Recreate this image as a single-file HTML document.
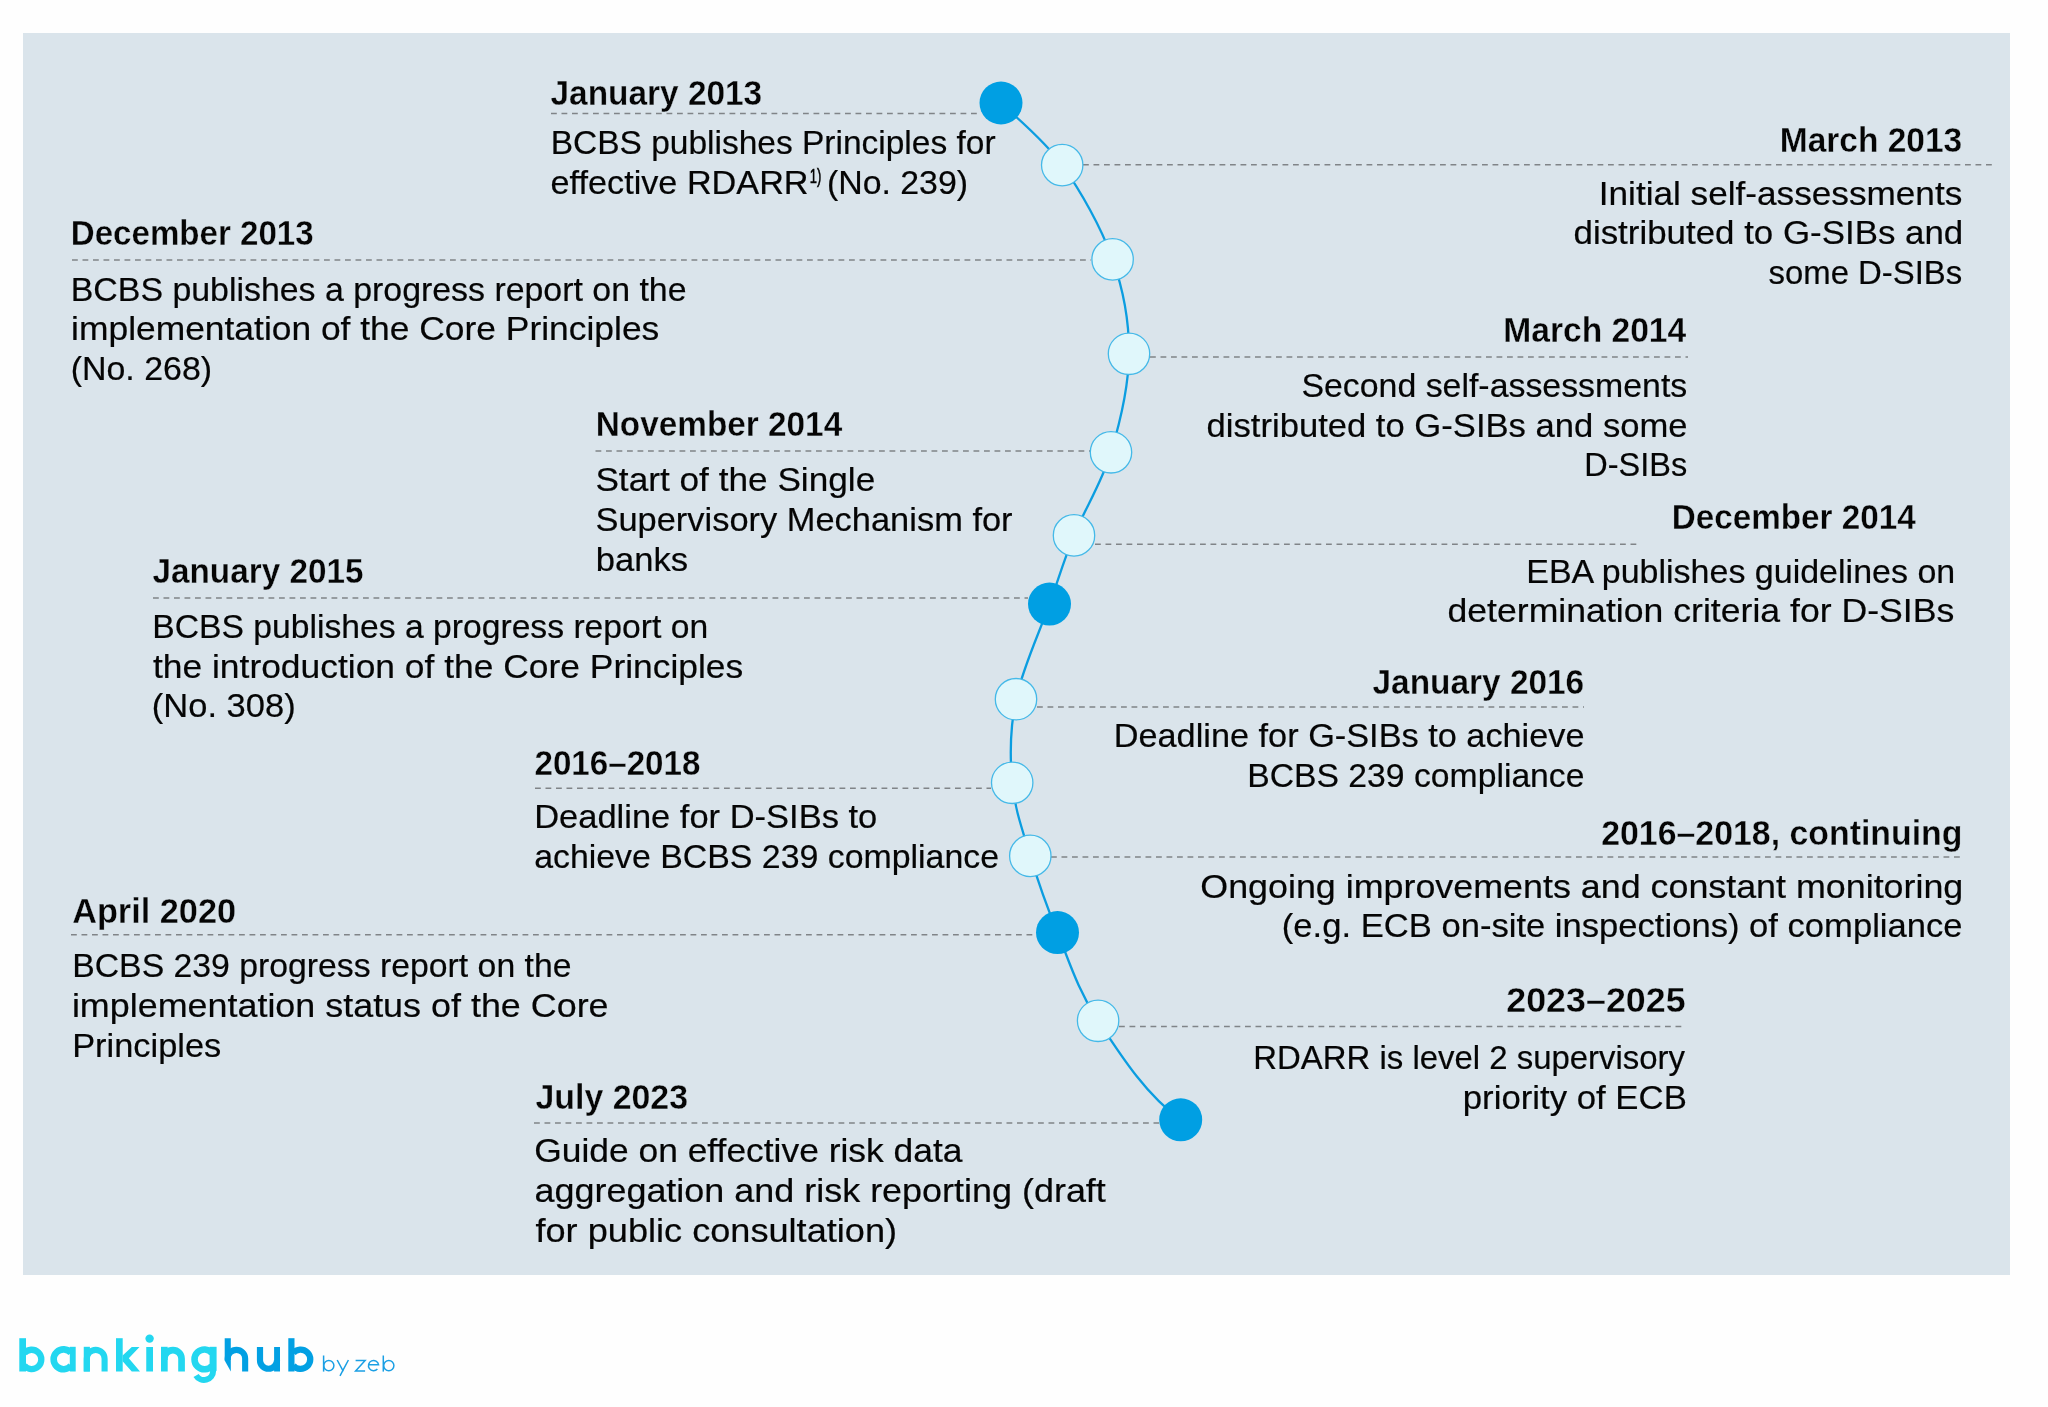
<!DOCTYPE html><html><head><meta charset="utf-8"><style>html,body{margin:0;padding:0;background:#fefefe;width:2048px;height:1407px;overflow:hidden}svg{display:block;will-change:transform}</style></head><body>
<svg width="2048" height="1407" viewBox="0 0 2048 1407">
<rect x="0" y="0" width="2048" height="1407" fill="#fefefe"/>
<rect x="23" y="33" width="1987" height="1242" fill="#dae4eb"/>
<g stroke="#808488" stroke-width="1.4" stroke-dasharray="5.8 4.7" fill="none">
<line x1="551" y1="113.5" x2="980" y2="113.5"/>
<line x1="1083" y1="164.7" x2="1992" y2="164.7"/>
<line x1="72" y1="260" x2="1091" y2="260"/>
<line x1="1150" y1="357" x2="1688" y2="357"/>
<line x1="595.5" y1="451" x2="1090" y2="451"/>
<line x1="1095" y1="544.3" x2="1640" y2="544.3"/>
<line x1="153" y1="598" x2="1028" y2="598"/>
<line x1="1037" y1="707" x2="1584" y2="707"/>
<line x1="535" y1="788.2" x2="991" y2="788.2"/>
<line x1="1051" y1="857" x2="1963" y2="857"/>
<line x1="71" y1="934.8" x2="1036" y2="934.8"/>
<line x1="1119" y1="1026.5" x2="1686" y2="1026.5"/>
<line x1="534" y1="1123" x2="1159" y2="1123"/>
</g>
<path d="M1001,103 C1011.2,113.3 1043.6,139.0 1062.2,165.1 C1080.8,191.2 1101.5,227.9 1112.6,259.4 C1123.7,290.8 1129.3,321.6 1129,353.8 C1128.7,386.0 1120.2,422.0 1111,452.3 C1101.8,482.6 1084.2,510.1 1074,535.4 C1063.8,560.7 1059.2,576.8 1049.5,604.1 C1039.8,631.4 1022.2,669.4 1016,699.2 C1009.8,729.0 1009.8,756.7 1012.2,782.8 C1014.6,808.9 1022.8,830.9 1030.3,855.9 C1037.8,880.9 1046.2,905.1 1057.5,932.6 C1068.8,960.1 1077.6,989.6 1098.1,1020.8 C1118.6,1052.0 1144.9,1094.2 1180.7,1119.8" fill="none" stroke="#0b9de0" stroke-width="2.3"/>
<circle cx="1001" cy="103" r="21.5" fill="#009fe3"/>
<circle cx="1062.2" cy="165.1" r="20.7" fill="#e0f7fb" stroke="#45b9e8" stroke-width="1.3"/>
<circle cx="1112.6" cy="259.4" r="20.7" fill="#e0f7fb" stroke="#45b9e8" stroke-width="1.3"/>
<circle cx="1129" cy="353.8" r="20.7" fill="#e0f7fb" stroke="#45b9e8" stroke-width="1.3"/>
<circle cx="1111" cy="452.3" r="20.7" fill="#e0f7fb" stroke="#45b9e8" stroke-width="1.3"/>
<circle cx="1074" cy="535.4" r="20.7" fill="#e0f7fb" stroke="#45b9e8" stroke-width="1.3"/>
<circle cx="1049.5" cy="604.1" r="21.5" fill="#009fe3"/>
<circle cx="1016" cy="699.2" r="20.7" fill="#e0f7fb" stroke="#45b9e8" stroke-width="1.3"/>
<circle cx="1012.2" cy="782.8" r="20.7" fill="#e0f7fb" stroke="#45b9e8" stroke-width="1.3"/>
<circle cx="1030.3" cy="855.9" r="20.7" fill="#e0f7fb" stroke="#45b9e8" stroke-width="1.3"/>
<circle cx="1057.5" cy="932.6" r="21.5" fill="#009fe3"/>
<circle cx="1098.1" cy="1020.8" r="20.7" fill="#e0f7fb" stroke="#45b9e8" stroke-width="1.3"/>
<circle cx="1180.7" cy="1119.8" r="21.5" fill="#009fe3"/>
<g font-family="Liberation Sans, sans-serif" fill="#050505">
<text x="550.49" y="105" font-size="35.5" font-weight="bold" stroke="#dae4eb" stroke-width="0.3" textLength="211.71" lengthAdjust="spacingAndGlyphs">January 2013</text>
<text x="1779.76" y="151.6" font-size="35.5" font-weight="bold" stroke="#dae4eb" stroke-width="0.3" textLength="182.45" lengthAdjust="spacingAndGlyphs">March 2013</text>
<text x="70.79" y="244.6" font-size="35.5" font-weight="bold" stroke="#dae4eb" stroke-width="0.3" textLength="242.91" lengthAdjust="spacingAndGlyphs">December 2013</text>
<text x="1503.25" y="341.6" font-size="35.5" font-weight="bold" stroke="#dae4eb" stroke-width="0.3" textLength="182.93" lengthAdjust="spacingAndGlyphs">March 2014</text>
<text x="595.77" y="436.2" font-size="35.5" font-weight="bold" stroke="#dae4eb" stroke-width="0.3" textLength="246.41" lengthAdjust="spacingAndGlyphs">November 2014</text>
<text x="1671.78" y="528.8" font-size="35.5" font-weight="bold" stroke="#dae4eb" stroke-width="0.3" textLength="243.90" lengthAdjust="spacingAndGlyphs">December 2014</text>
<text x="152.50" y="583" font-size="35.5" font-weight="bold" stroke="#dae4eb" stroke-width="0.3" textLength="211.03" lengthAdjust="spacingAndGlyphs">January 2015</text>
<text x="1372.49" y="693.5" font-size="35.5" font-weight="bold" stroke="#dae4eb" stroke-width="0.3" textLength="211.71" lengthAdjust="spacingAndGlyphs">January 2016</text>
<text x="534.45" y="775.3" font-size="35.5" font-weight="bold" stroke="#dae4eb" stroke-width="0.3" textLength="165.97" lengthAdjust="spacingAndGlyphs">2016–2018</text>
<text x="1601.23" y="845.3" font-size="35.5" font-weight="bold" stroke="#dae4eb" stroke-width="0.3" textLength="361.24" lengthAdjust="spacingAndGlyphs">2016–2018, continuing</text>
<text x="72.15" y="922.8" font-size="35.5" font-weight="bold" stroke="#dae4eb" stroke-width="0.3" textLength="163.96" lengthAdjust="spacingAndGlyphs">April 2020</text>
<text x="1506.26" y="1012.2" font-size="35.5" font-weight="bold" stroke="#dae4eb" stroke-width="0.3" textLength="179.34" lengthAdjust="spacingAndGlyphs">2023–2025</text>
<text x="535.49" y="1108.9" font-size="35.5" font-weight="bold" stroke="#dae4eb" stroke-width="0.3" textLength="152.54" lengthAdjust="spacingAndGlyphs">July 2023</text>
<text x="550.75" y="153.7" font-size="33.5" stroke="#050505" stroke-width="0.2" textLength="444.80" lengthAdjust="spacingAndGlyphs">BCBS publishes Principles for</text>
<text x="550.55" y="193.7" font-size="33.5" stroke="#050505" stroke-width="0.2" textLength="258.04" lengthAdjust="spacingAndGlyphs">effective RDARR</text>
<text x="826.90" y="193.7" font-size="33.5" stroke="#050505" stroke-width="0.2" textLength="141.20" lengthAdjust="spacingAndGlyphs">(No. 239)</text>
<text x="1598.75" y="204.7" font-size="33.5" stroke="#050505" stroke-width="0.2" textLength="363.52" lengthAdjust="spacingAndGlyphs">Initial self-assessments</text>
<text x="1573.54" y="244.3" font-size="33.5" stroke="#050505" stroke-width="0.2" textLength="389.71" lengthAdjust="spacingAndGlyphs">distributed to G-SIBs and</text>
<text x="1768.59" y="283.8" font-size="33.5" stroke="#050505" stroke-width="0.2" textLength="193.60" lengthAdjust="spacingAndGlyphs">some D-SIBs</text>
<text x="70.72" y="300.5" font-size="33.5" stroke="#050505" stroke-width="0.2" textLength="615.78" lengthAdjust="spacingAndGlyphs">BCBS publishes a progress report on the</text>
<text x="71.13" y="340.3" font-size="33.5" stroke="#050505" stroke-width="0.2" textLength="588.15" lengthAdjust="spacingAndGlyphs">implementation of the Core Principles</text>
<text x="70.70" y="379.6" font-size="33.5" stroke="#050505" stroke-width="0.2" textLength="141.41" lengthAdjust="spacingAndGlyphs">(No. 268)</text>
<text x="1301.46" y="396.7" font-size="33.5" stroke="#050505" stroke-width="0.2" textLength="385.76" lengthAdjust="spacingAndGlyphs">Second self-assessments</text>
<text x="1206.55" y="437" font-size="33.5" stroke="#050505" stroke-width="0.2" textLength="480.99" lengthAdjust="spacingAndGlyphs">distributed to G-SIBs and some</text>
<text x="1584.34" y="475.9" font-size="33.5" stroke="#050505" stroke-width="0.2" textLength="102.84" lengthAdjust="spacingAndGlyphs">D-SIBs</text>
<text x="595.40" y="491.2" font-size="33.5" stroke="#050505" stroke-width="0.2" textLength="279.86" lengthAdjust="spacingAndGlyphs">Start of the Single</text>
<text x="595.44" y="530.8" font-size="33.5" stroke="#050505" stroke-width="0.2" textLength="417.14" lengthAdjust="spacingAndGlyphs">Supervisory Mechanism for</text>
<text x="595.77" y="571" font-size="33.5" stroke="#050505" stroke-width="0.2" textLength="92.28" lengthAdjust="spacingAndGlyphs">banks</text>
<text x="1526.21" y="582.7" font-size="33.5" stroke="#050505" stroke-width="0.2" textLength="429.00" lengthAdjust="spacingAndGlyphs">EBA publishes guidelines on</text>
<text x="1447.50" y="621.6" font-size="33.5" stroke="#050505" stroke-width="0.2" textLength="506.78" lengthAdjust="spacingAndGlyphs">determination criteria for D-SIBs</text>
<text x="152.24" y="638" font-size="33.5" stroke="#050505" stroke-width="0.2" textLength="555.95" lengthAdjust="spacingAndGlyphs">BCBS publishes a progress report on</text>
<text x="152.96" y="677.6" font-size="33.5" stroke="#050505" stroke-width="0.2" textLength="590.31" lengthAdjust="spacingAndGlyphs">the introduction of the Core Principles</text>
<text x="151.86" y="717.3" font-size="33.5" stroke="#050505" stroke-width="0.2" textLength="143.78" lengthAdjust="spacingAndGlyphs">(No. 308)</text>
<text x="1113.69" y="746.8" font-size="33.5" stroke="#050505" stroke-width="0.2" textLength="470.84" lengthAdjust="spacingAndGlyphs">Deadline for G-SIBs to achieve</text>
<text x="1247.23" y="786.5" font-size="33.5" stroke="#050505" stroke-width="0.2" textLength="337.26" lengthAdjust="spacingAndGlyphs">BCBS 239 compliance</text>
<text x="534.17" y="828.3" font-size="33.5" stroke="#050505" stroke-width="0.2" textLength="343.08" lengthAdjust="spacingAndGlyphs">Deadline for D-SIBs to</text>
<text x="534.16" y="867.9" font-size="33.5" stroke="#050505" stroke-width="0.2" textLength="464.84" lengthAdjust="spacingAndGlyphs">achieve BCBS 239 compliance</text>
<text x="1200.30" y="898.1" font-size="33.5" stroke="#050505" stroke-width="0.2" textLength="763.01" lengthAdjust="spacingAndGlyphs">Ongoing improvements and constant monitoring</text>
<text x="1281.85" y="937.3" font-size="33.5" stroke="#050505" stroke-width="0.2" textLength="680.68" lengthAdjust="spacingAndGlyphs">(e.g. ECB on-site inspections) of compliance</text>
<text x="72.23" y="977.4" font-size="33.5" stroke="#050505" stroke-width="0.2" textLength="499.27" lengthAdjust="spacingAndGlyphs">BCBS 239 progress report on the</text>
<text x="71.90" y="1017.3" font-size="33.5" stroke="#050505" stroke-width="0.2" textLength="536.70" lengthAdjust="spacingAndGlyphs">implementation status of the Core</text>
<text x="72.18" y="1057.3" font-size="33.5" stroke="#050505" stroke-width="0.2" textLength="149.06" lengthAdjust="spacingAndGlyphs">Principles</text>
<text x="1253.30" y="1069" font-size="33.5" stroke="#050505" stroke-width="0.2" textLength="431.76" lengthAdjust="spacingAndGlyphs">RDARR is level 2 supervisory</text>
<text x="1462.76" y="1109" font-size="33.5" stroke="#050505" stroke-width="0.2" textLength="224.07" lengthAdjust="spacingAndGlyphs">priority of ECB</text>
<text x="534.22" y="1161.9" font-size="33.5" stroke="#050505" stroke-width="0.2" textLength="428.18" lengthAdjust="spacingAndGlyphs">Guide on effective risk data</text>
<text x="534.47" y="1201.7" font-size="33.5" stroke="#050505" stroke-width="0.2" textLength="571.39" lengthAdjust="spacingAndGlyphs">aggregation and risk reporting (draft</text>
<text x="535.49" y="1241.6" font-size="33.5" stroke="#050505" stroke-width="0.2" textLength="361.55" lengthAdjust="spacingAndGlyphs">for public consultation)</text>
<text x="809.82" y="183.2" font-size="20" stroke="#050505" stroke-width="0.6" textLength="11.48" lengthAdjust="spacingAndGlyphs">1)</text>
</g>
<g fill="#23d7f0"><rect x="19.3" y="1338.2" width="6.7" height="33.3"/><rect x="69.8" y="1346.8" width="5.9" height="24.7"/><rect x="83.75" y="1346.8" width="6.15" height="24.7"/><rect x="116" y="1338.2" width="6.7" height="33.3"/><polygon points="122.6,1355.4 131.75,1347 139.5,1347 128.8,1358.3 140,1371.5 131.75,1371.5 122.6,1361.3"/><rect x="146.25" y="1347" width="6.75" height="24.5"/><circle cx="149.6" cy="1338.6" r="4.2"/><rect x="161" y="1346.8" width="6.7" height="24.7"/><rect x="209.6" y="1346.8" width="7" height="24"/></g>
<g fill="none" stroke="#23d7f0"><path d="M24.26,1353.2 A9.65,9.65 0 1 1 24.26,1365.6" stroke-width="6.3"/><path d="M71.1,1352.9 A9.9,9.9 0 1 0 71.1,1365.7" stroke-width="6.6"/><path d="M86.8,1371.5 V1358.75 A8.9,8.9 0 0 1 104.6,1358.75 V1371.5" stroke-width="6.1"/><path d="M164.35,1360 V1358.75 A8.6,8.6 0 0 1 181.55,1358.75 V1371.5" stroke-width="6.7"/><path d="M212,1353 A9.9,9.9 0 1 0 212,1365.8" stroke-width="6.6"/><path d="M213.1,1370 V1370.9 A9.1,9.1 0 0 1 196.1,1375.45" stroke-width="6"/></g>
<g fill="#02a0e3"><polygon points="224.7,1338.2 230.8,1338.2 230.8,1371.5 224.7,1360.5"/><rect x="274.1" y="1347" width="5.9" height="24.5"/><rect x="288.3" y="1338.2" width="6.2" height="33.3"/></g>
<g fill="none" stroke="#02a0e3"><path d="M227.75,1360 V1358.6 A8.7,8.7 0 0 1 245.15,1358.6 V1371.5" stroke-width="6.1"/><path d="M260,1347 V1360.25 A8.5,8.5 0 0 0 277,1360.25" stroke-width="6.2"/><path d="M293.2,1353.1 A9.65,9.65 0 1 1 293.2,1365.5" stroke-width="6.3"/></g>
<g fill="none" stroke="#1a9fe4" stroke-width="1.5"><path d="M323.6,1355.5 V1371.6"/><circle cx="328.8" cy="1365.6" r="5.1"/><path d="M337.2,1360 L343.3,1371.3 M348.4,1360 L340,1375.8"/><path d="M355.6,1360.4 H365.1 L355.6,1370.9 H365.1"/><path d="M368.4,1364.8 H378.6 A5.1,5.1 0 1 0 377.4,1369"/><path d="M383.3,1355.5 V1371.6"/><circle cx="388.8" cy="1365.6" r="5.1"/></g>
</svg></body></html>
